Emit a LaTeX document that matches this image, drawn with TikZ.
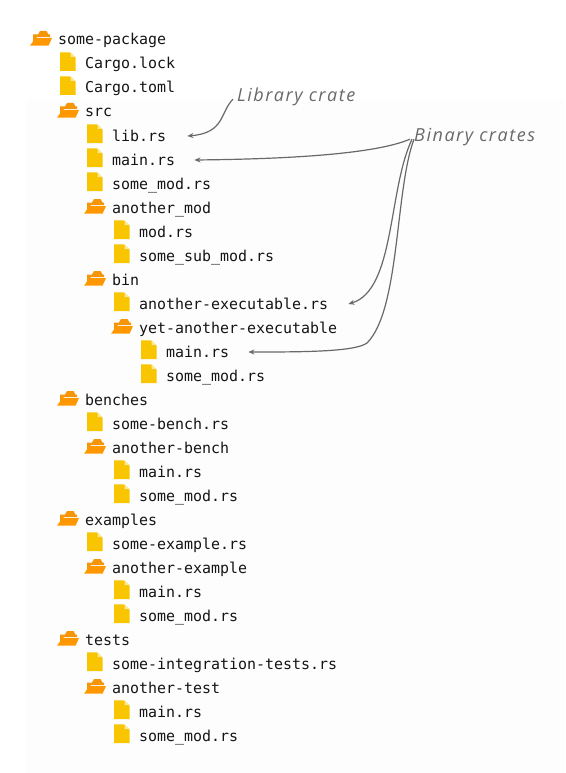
\documentclass[tikz,border=0pt]{standalone}
\usepackage{fontspec}
\usepackage{xcolor}
\usetikzlibrary{arrows.meta, positioning}
\setmonofont{DejaVu Sans Mono}
\newfontfamily\handfont[LetterSpace=8.5]{Open Sans}
\definecolor{fileyellow}{RGB}{248, 197, 0}
\definecolor{foldfill}{RGB}{253, 232, 150}
\definecolor{folderorange}{RGB}{255, 152, 0}
\definecolor{folderdark}{RGB}{245, 150, 10}
\definecolor{notegray}{RGB}{105, 105, 105}
\definecolor{paleback}{RGB}{253, 253, 253}
\begin{document}
\begin{tikzpicture}[
    x=1pt, y=-1pt,
    rowtext/.style={anchor=west, inner sep=0pt, text height=10pt, text depth=0pt, font=\fontsize{14.95pt}{16pt}\ttfamily, text=black!92},
    filerow/.style={rowtext, append after command={([xshift=-25pt]\tikzlastnode.west) pic {fileicon}}},
    folderrow/.style={rowtext, append after command={([xshift=-28pt]\tikzlastnode.west) pic {foldericon}}},
    note/.style={anchor=west, inner sep=0pt, text height=10pt, text depth=0pt, font=\fontsize{18pt}{20pt}\handfont\itshape, text=notegray},
    pointer/.style={draw=notegray, line width=1.2pt, -{Stealth[length=6pt, width=5pt]}},
    fileicon/.pic={
        \fill[fileyellow] (0,-11.7) -- (10,-11.7) -- (15.5,-6.5) -- (15.5,7) -- (0,7) -- cycle;
        \fill[foldfill] (10.5,-11.7) -- (15.5,-7) -- (10.5,-7) -- cycle;
    },
    foldericon/.pic={
        \fill[folderdark] (3,2) -- (3,-5.5) -- (8,-5.5) -- (10,-9) -- (16.5,-9) -- (18.5,-5.5) -- (20,-5.5) -- (20,-3) -- (7,-3) -- cycle;
        \fill[folderorange] (5.5,-2) -- (22,-2) -- (18.5,5.7) -- (0,5.7) -- cycle;
    },
]

\useasboundingbox (0,0) rectangle (565,773);
\fill[paleback] (26,100) rectangle (565,773);

% Package root
\node[folderrow] (package) at (58,40) {some-package};
\node[filerow] (cargolock) at (85,64) {Cargo.lock};
\node[filerow] (cargotoml) at (85,88) {Cargo.toml};

% src
\node[folderrow] (src) at (85,112) {src};
\node[filerow] (librs) at (112,136) {lib.rs};
\node[filerow] (mainrs) at (112,160) {main.rs};
\node[filerow] (somemod) at (112,184) {some\_mod.rs};
\node[folderrow] (anothermod) at (112,208) {another\_mod};
\node[filerow] (modrs) at (139,232) {mod.rs};
\node[filerow] (submod) at (139,256) {some\_sub\_mod.rs};
\node[folderrow] (bin) at (112,280) {bin};
\node[filerow] (anotherexe) at (139,304) {another-executable.rs};
\node[folderrow] (yetanother) at (139,328) {yet-another-executable};
\node[filerow] (yetmain) at (166,352) {main.rs};
\node[filerow] (yetmod) at (166,376) {some\_mod.rs};

% benches
\node[folderrow] (benches) at (85,400) {benches};
\node[filerow] (somebench) at (112,424) {some-bench.rs};
\node[folderrow] (anotherbench) at (112,448) {another-bench};
\node[filerow] (benchmain) at (139,472) {main.rs};
\node[filerow] (benchmod) at (139,496) {some\_mod.rs};

% examples
\node[folderrow] (examples) at (85,520) {examples};
\node[filerow] (someexample) at (112,544) {some-example.rs};
\node[folderrow] (anotherexample) at (112,568) {another-example};
\node[filerow] (examplemain) at (139,592) {main.rs};
\node[filerow] (examplemod) at (139,616) {some\_mod.rs};

% tests
\node[folderrow] (tests) at (85,640) {tests};
\node[filerow] (sometests) at (112,664) {some-integration-tests.rs};
\node[folderrow] (anothertest) at (112,688) {another-test};
\node[filerow] (testmain) at (139,712) {main.rs};
\node[filerow] (testmod) at (139,736) {some\_mod.rs};

% Notes
\node[note] (library) at (237,97) {Library crate};
\node[note] (binary) at (414,136) {Binary crates};

% Pointers
\draw[pointer] ([xshift=-4pt, yshift=3pt]library.south west) .. controls (220,112) and (225,133) .. ([xshift=21pt]librs.east);
\draw[pointer] ([xshift=-4pt, yshift=2pt]binary.south west) .. controls (375,154) and (290,159) .. ([xshift=19pt]mainrs.east);
\draw[pointer] ([xshift=-2pt, yshift=2pt]binary.south west) .. controls (388,190) and (395,290) .. ([xshift=20pt]anotherexe.east);
\draw[pointer] ([yshift=2pt]binary.south west) .. controls (395,190) and (400,310) .. (367,343) .. controls (355,352) and (300,352) .. ([xshift=19pt]yetmain.east);

\end{tikzpicture}
\end{document}
